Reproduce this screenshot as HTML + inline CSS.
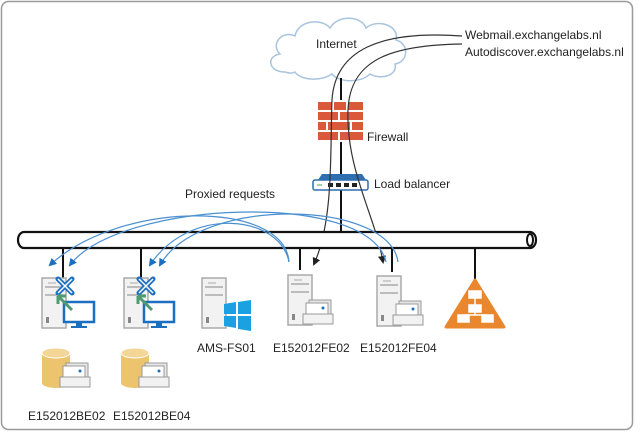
<!DOCTYPE html>
<html><head><meta charset="utf-8"><style>
html,body{margin:0;padding:0;background:#fff;}
svg{display:block;}
text{font-family:"Liberation Sans",sans-serif;font-size:12px;fill:#222;}
</style></head><body>
<svg width="644" height="441" viewBox="0 0 644 441" xmlns="http://www.w3.org/2000/svg">
<defs>
<marker id="ab" markerWidth="8" markerHeight="8" refX="6" refY="4" orient="auto" markerUnits="userSpaceOnUse"><path d="M0,0 L8,4 L0,8 z" fill="#1a6fc0"/></marker>
<marker id="ak" markerWidth="8" markerHeight="8" refX="6" refY="4" orient="auto" markerUnits="userSpaceOnUse"><path d="M0,0 L8,4 L0,8 z" fill="#222"/></marker>
<g id="srv">
<rect x="0" y="0" width="24" height="50" fill="#f2f2f2" stroke="#aaa" stroke-width="1.5"/>
<line x1="3" y1="9" x2="21" y2="9" stroke="#aaa" stroke-width="1.5"/>
<line x1="3" y1="17" x2="21" y2="17" stroke="#aaa" stroke-width="1.5"/>
<line x1="6" y1="5" x2="14" y2="5" stroke="#aaa"/>
<rect x="4" y="39" width="3" height="6" fill="#888"/>
</g>
<g id="prn">
<rect x="6" y="0" width="22" height="14" fill="#e6e6e6" stroke="#999"/>
<rect x="3" y="3" width="22" height="14" fill="#fff" stroke="#999"/>
<circle cx="20" cy="8" r="1.5" fill="#1a6fc0"/>
<rect x="0" y="14" width="30" height="10" fill="#f2f2f2" stroke="#999"/>
</g>
<g id="xch">
<path d="M1,1 L15,15 M15,1 L1,15" stroke="#1a6fc0" stroke-width="5" stroke-linecap="round"/>
<path d="M1,1 L15,15 M15,1 L1,15" stroke="#fff" stroke-width="1.5"/>
</g>
<g id="mon">
<rect x="0" y="0" width="30" height="20" fill="#fff" stroke="#1a6fc0" stroke-width="2.5"/>
<rect x="12" y="20" width="6" height="4" fill="#1a6fc0"/>
<rect x="7" y="24" width="16" height="2" fill="#1a6fc0"/>
</g>
<g id="db">
<path d="M0,6 L0,36 A14,5 0 0 0 28,36 L28,6 Z" fill="#ecc46e"/>
<ellipse cx="14" cy="6" rx="14" ry="5" fill="#f3d695" stroke="#fff"/>
</g>
</defs>
<rect x="1.5" y="1.5" width="631" height="428" rx="7" fill="#fff" stroke="#9a9a9a" stroke-width="1.5"/>

<path d="M285,72 C268,72 266,56 280,54 C270,44 282,30 295,36 C298,20 322,18 330,28 C338,14 362,16 366,28 C378,18 400,26 396,40 C410,44 408,62 395,64 C398,76 380,80 370,74 C360,84 338,82 332,74 C320,82 300,80 295,72 C292,74 288,73 285,72 Z" fill="#fff" stroke="#a9c4de" stroke-width="1.5"/>
<text x="316" y="48">Internet</text>
<text x="465" y="39">Webmail.exchangelabs.nl</text>
<text x="465" y="56">Autodiscover.exchangelabs.nl</text>

<line x1="341" y1="78" x2="341" y2="100" stroke="#111" stroke-width="2"/>
<line x1="341" y1="142" x2="341" y2="174" stroke="#111" stroke-width="2"/>
<line x1="341" y1="190" x2="341" y2="232" stroke="#111" stroke-width="2"/>

<g fill="#d9593a">
<rect x="318" y="102" width="14" height="8"/><rect x="334" y="102" width="12" height="8"/><rect x="348" y="102" width="15" height="8"/>
<rect x="318" y="112" width="20" height="8"/><rect x="340" y="112" width="23" height="8"/>
<rect x="318" y="122" width="8" height="8"/><rect x="328" y="122" width="22" height="8"/><rect x="352" y="122" width="11" height="8"/>
<rect x="318" y="132" width="20" height="8"/><rect x="340" y="132" width="23" height="8"/>
</g>
<text x="367" y="141">Firewall</text>

<path d="M318,180 L322,174 L362,174 L366,180 Z" fill="#2f6fb0"/>
<rect x="313" y="180" width="55" height="10" rx="2" fill="#fff" stroke="#2f6fb0" stroke-width="1.5"/>
<g fill="#222"><rect x="328" y="183" width="5" height="4"/><rect x="336" y="183" width="5" height="4"/><rect x="344" y="183" width="5" height="4"/><rect x="352" y="183" width="5" height="4"/></g>
<line x1="317" y1="185" x2="322" y2="185" stroke="#4a4"/>
<text x="374" y="188">Load balancer</text>

<path d="M462,36 C380,30 335,50 332,100 C330,150 334,220 314,264" fill="none" stroke="#333" stroke-width="1.2" marker-end="url(#ak)"/>
<path d="M462,44 C390,45 350,60 348,110 C346,170 375,215 383,262" fill="none" stroke="#333" stroke-width="1.2" marker-end="url(#ak)"/>

<text x="185" y="198">Proxied requests</text>

<path d="M24,232 L530,232 A6,8 0 0 1 530,248 L24,248 A6,8 0 0 1 24,232 Z" fill="#fff" stroke="#111" stroke-width="2.2"/>
<ellipse cx="530" cy="240" rx="3" ry="6" fill="none" stroke="#111" stroke-width="2"/>

<g stroke="#111" stroke-width="2">
<line x1="63" y1="248" x2="63" y2="280"/>
<line x1="141" y1="248" x2="141" y2="280"/>
<line x1="300" y1="248" x2="300" y2="270"/>
<line x1="392" y1="248" x2="392" y2="272"/>
<line x1="475" y1="248" x2="475" y2="282"/>
</g>

<g fill="none" stroke="#4a90d0" stroke-width="1.2">
<path d="M289,262 C285,200 120,200 50,265" marker-end="url(#ab)"/>
<path d="M289,262 C280,215 190,205 150,265" marker-end="url(#ab)"/>
<path d="M386,262 C370,190 120,200 70,265" marker-end="url(#ab)"/>
<path d="M398,262 C390,200 200,195 160,265" marker-end="url(#ab)"/>
</g>

<use href="#srv" x="42" y="278"/>
<use href="#xch" x="57" y="278"/>
<use href="#mon" x="64" y="302"/>
<path d="M72,310 L58,296 M58,296 L58,304 M58,296 L66,296" stroke="#4f9a6e" stroke-width="3" fill="none"/>
<use href="#db" x="42" y="347"/>
<use href="#prn" x="60" y="363"/>
<text x="28" y="420">E152012BE02</text>

<use href="#srv" x="124" y="278"/>
<use href="#xch" x="138" y="278"/>
<use href="#mon" x="144" y="302"/>
<path d="M152,310 L138,296 M138,296 L138,304 M138,296 L146,296" stroke="#4f9a6e" stroke-width="3" fill="none"/>
<use href="#db" x="121" y="347"/>
<use href="#prn" x="139" y="363"/>
<text x="113" y="420">E152012BE04</text>

<use href="#srv" x="202" y="278"/>
<g fill="#1ba1e2">
<path d="M224,304 L236,302 L236,314 L224,314 Z"/><path d="M238,302 L251,300 L251,314 L238,314 Z"/>
<path d="M224,316 L236,316 L236,328 L224,326 Z"/><path d="M238,316 L251,316 L251,331 L238,329 Z"/>
</g>
<text x="197" y="352">AMS-FS01</text>

<use href="#srv" x="288" y="275"/>
<use href="#prn" x="303" y="300"/>
<text x="273" y="352">E152012FE02</text>

<use href="#srv" x="377" y="276"/>
<use href="#prn" x="393" y="301"/>
<text x="360" y="352">E152012FE04</text>

<path d="M475,280 L504,327 L446,327 Z" fill="#e8872e" stroke="#e8872e" stroke-width="3" stroke-linejoin="round"/>
<g fill="none" stroke="#fff" stroke-width="1.5">
<rect x="469" y="291" width="12" height="7" fill="#fff"/>
<line x1="475" y1="298" x2="475" y2="305"/>
<rect x="469" y="305" width="12" height="7" fill="#fff"/>
<line x1="475" y1="312" x2="475" y2="315"/>
<line x1="463" y1="315" x2="487" y2="315"/>
<rect x="458" y="315" width="11" height="7" fill="#fff"/>
<rect x="482" y="315" width="11" height="7" fill="#fff"/>
</g>
</svg>
</body></html>
